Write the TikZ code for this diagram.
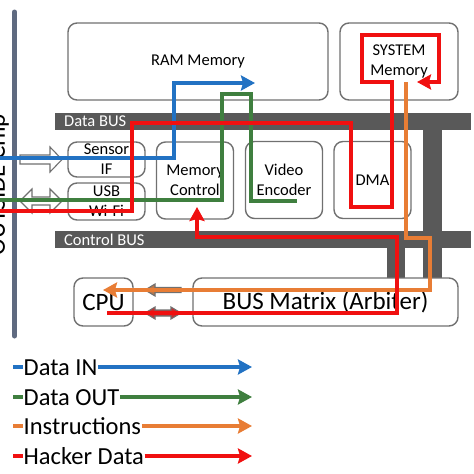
\documentclass[tikz,border=0pt]{standalone}
\usepackage{fontspec}
\setmainfont{Carlito}
\usetikzlibrary{arrows.meta}

\definecolor{boxgray}{HTML}{707070}
\definecolor{busgray}{HTML}{595959}
\definecolor{chipbar}{HTML}{5F6A80}
\definecolor{datain}{HTML}{2272C3}
\definecolor{dataout}{HTML}{3F7F3F}
\definecolor{instr}{HTML}{E87D35}
\definecolor{hacker}{HTML}{F01010}

\tikzset{
	unit/.style={draw=boxgray, line width=1.4pt, rounded corners=9pt, align=center,
		inner sep=0pt, minimum width=77pt, minimum height=77pt,
		font=\fontsize{16.5}{20}\selectfont},
	buslabel/.style={text=white, anchor=west, inner sep=0pt, font=\fontsize{16.5}{20}\selectfont},
	blockarrow/.style={draw=boxgray, fill=white, line width=1.1pt, line join=miter},
	wire/.style={line width=3.3pt, line join=miter},
	tip/.style={-{Stealth[length=14pt,width=15pt,inset=2pt]}},
	legendtext/.style={anchor=base west, inner sep=0.5pt, font=\fontsize{24.5}{29}\selectfont}
}

\begin{document}
\begin{tikzpicture}[x=1pt, y=-1pt]
	\useasboundingbox (0,0) rectangle (474,474);

	% draw the chip border and its label
	\draw[chipbar, line width=5pt, line cap=round] (14.5,12) -- (14.5,336);
	\node[rotate=90, anchor=base, inner sep=0pt, font=\fontsize{25}{30}\selectfont] (outside) at (5,184.5) {OUTSIDE Chip};

	% draw the memories
	\node[unit, minimum width=260pt] (ram) at (198,61.5) {RAM Memory};
	\node[unit, minimum width=118pt] (sysmem) at (399,61.5) {SYSTEM\\Memory};

	% draw the two buses and the links between them
	\fill[busgray] (55,113) rectangle (471,130);
	\node[buslabel] (databus) at (64,121.5) {Data BUS};
	\fill[busgray] (55,231) rectangle (471,248);
	\node[buslabel] (ctrlbus) at (64,239.5) {Control BUS};
	\fill[busgray] (423,130) rectangle (442,231);
	\fill[busgray] (387,248) rectangle (405,278);
	\fill[busgray] (423,248) rectangle (442,278);

	% draw the peripherals
	\node[unit, minimum height=35pt] (sensor) at (106.5,159.5) {Sensor\\IF};
	\node[unit, minimum height=37pt] (usb) at (106.5,201.5) {USB\\Wi-Fi};
	\node[unit] (memctl) at (195,180.5) {Memory\\Control};
	\node[unit] (video) at (284,180) {Video\\Encoder};
	\node[unit] (dma) at (372.5,180) {DMA};

	% draw the cpu and the bus matrix
	\node[unit, minimum width=59pt, minimum height=48pt, font=\fontsize{25}{30}\selectfont] (cpu) at (103.5,302) {CPU};
	\node[unit, minimum width=265pt, minimum height=48pt, font=\fontsize{25}{30}\selectfont] (busmx) at (325.5,302) {BUS Matrix (Arbiter)};

	% draw the block arrows
	\draw[blockarrow] (20,155) -- (50,155) -- (50,147) -- (62,159.5) -- (50,172) -- (50,164) -- (20,164) -- cycle;
	\draw[blockarrow] (20,201) -- (32,189) -- (32,197) -- (50,197) -- (50,189) -- (62,201) -- (50,213) -- (50,205) -- (32,205) -- (32,213) -- cycle;
	\draw[blockarrow, fill=instr!60!boxgray] (145,290) -- (155,284) -- (155,287.5) -- (181,287.5) -- (181,292.5) -- (155,292.5) -- (155,296) -- cycle;
	\draw[blockarrow, fill=hacker!70!boxgray] (145,313) -- (155,307) -- (155,310) -- (171,310) -- (171,307) -- (181,313) -- (171,319) -- (171,316) -- (155,316) -- (155,319) -- cycle;

	% draw the data in path
	\coordinate (inA) at (0,158);
	\coordinate (inB) at (255,83);
	\draw[wire, datain, tip] (inA) -- (174,158) |- (inB);

	% draw the data out path
	\coordinate (outA) at (0,200);
	\coordinate (outB) at (297,201);
	\draw[wire, dataout] (outA) -- (222,200) -- (222,94) -- (251,94) |- (outB);

	% draw the instructions path
	\coordinate (insA) at (406,82);
	\coordinate (insB) at (103,290);
	\draw[wire, instr, tip] (insA) -- (406,238) -- (430,238) |- (insB);

	% draw the hacker data paths
	\coordinate (hackA) at (0,211);
	\coordinate (hackB) at (417,82);
	\draw[wire, hacker, tip] (hackA) -- (132,211) -- (132,123) -- (351,123) -- (351,207)
		-- (392,207) -- (392,82) -- (362,82) -- (362,35) -- (439,35) |- (hackB);
	\coordinate (hackC) at (107,313);
	\coordinate (hackD) at (197,207);
	\draw[wire, hacker, tip] (hackC) -- (397,313) -- (397,237) -| (hackD);

	% draw the legend
	\coordinate (lgInA) at (13,367);
	\coordinate (lgInB) at (252,367);
	\node[legendtext] (lgin) at (23,375) {Data IN};
	\draw[wire, datain] (lgInA) -- (lgin.west |- lgInA);
	\draw[wire, datain, tip] (lgin.east |- lgInA) -- (lgInB);

	\coordinate (lgOutA) at (13,397);
	\coordinate (lgOutB) at (252,397);
	\node[legendtext] (lgout) at (23,405) {Data OUT};
	\draw[wire, dataout] (lgOutA) -- (lgout.west |- lgOutA);
	\draw[wire, dataout, tip] (lgout.east |- lgOutA) -- (lgOutB);

	\coordinate (lgInsA) at (13,426);
	\coordinate (lgInsB) at (252,426);
	\node[legendtext] (lgins) at (23,434) {Instructions};
	\draw[wire, instr] (lgInsA) -- (lgins.west |- lgInsA);
	\draw[wire, instr, tip] (lgins.east |- lgInsA) -- (lgInsB);

	\coordinate (lgHackA) at (13,456);
	\coordinate (lgHackB) at (252,456);
	\node[legendtext] (lghack) at (23,464) {Hacker Data};
	\draw[wire, hacker] (lgHackA) -- (lghack.west |- lgHackA);
	\draw[wire, hacker, tip] (lghack.east |- lgHackA) -- (lgHackB);
\end{tikzpicture}
\end{document}
